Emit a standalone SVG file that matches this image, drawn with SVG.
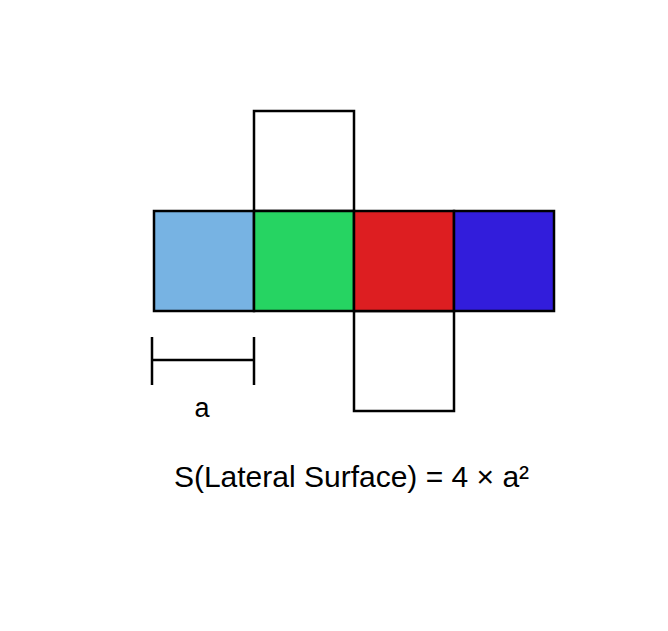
<svg xmlns="http://www.w3.org/2000/svg" width="668" height="631" viewBox="0 0 668 631">
<style>
.face{stroke:#000;stroke-width:2.5}
.dim{stroke:#000;stroke-width:2.5;fill:none}
.lbl{font-family:"Liberation Sans",Arial,sans-serif;fill:#000}
</style>
<rect width="668" height="631" fill="#fff"/>
<g id="top"><rect class="face" x="254" y="111" width="100" height="100" fill="#fff"/></g>
<g id="bottom"><rect class="face" x="354" y="311" width="100" height="100" fill="#fff"/></g>
<g id="face1"><rect class="face" x="154" y="211" width="100" height="100" fill="#77B3E3"/></g>
<g id="face2"><rect class="face" x="254" y="211" width="100" height="100" fill="#26D462"/></g>
<g id="face3"><rect class="face" x="354" y="211" width="100" height="100" fill="#DD1E21"/></g>
<g id="face4"><rect class="face" x="454" y="211" width="100" height="100" fill="#321DDB"/></g>
<g id="connectors">
<path class="dim" d="M152 337V385M254 337V385M152 360H254"/>
</g>
<text class="lbl" x="202" y="417" font-size="27" text-anchor="middle">a</text>
<text class="lbl" x="351.5" y="487" font-size="30" text-anchor="middle">S(Lateral Surface) = 4 × a²</text>
</svg>
